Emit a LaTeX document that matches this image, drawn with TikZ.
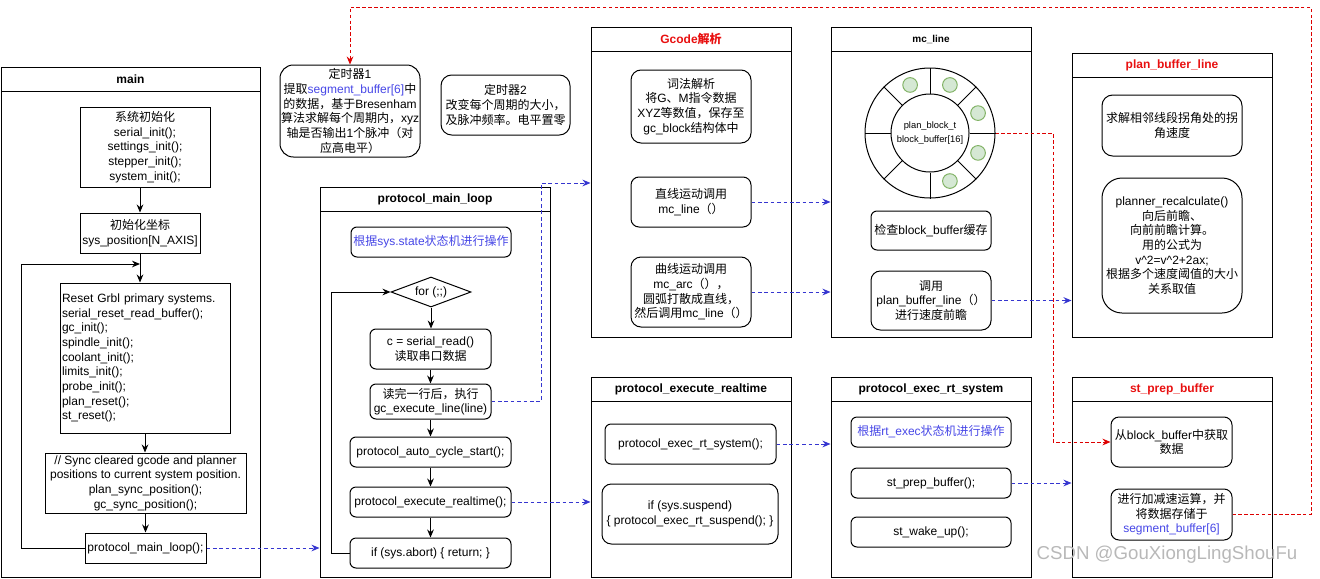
\documentclass[tikz,border=0pt]{standalone}
\usepackage{fontspec}
\setmainfont{Liberation Sans}
\newfontfamily\cjkf{Noto Sans CJK SC}
\usetikzlibrary{shapes.geometric,arrows.meta,fit}
\definecolor{lblue}{HTML}{3535D0}
\definecolor{tblue}{HTML}{4646E6}
\definecolor{lred}{HTML}{DD0000}
\definecolor{tred}{HTML}{E81010}
\definecolor{gfill}{HTML}{D5E8D4}
\definecolor{gline}{HTML}{82B366}
\newcommand\zh[1]{{\cjkf #1}}
\newcommand\bx[7]{\node[#6, minimum width={(#4-#2)*0.75pt}, minimum height={(#5-#3)*0.75pt}] (#1) at ({(#2+#4)/2},{(#3+#5)/2}) {#7};}
\newcommand\swim[7]{%
  \node[cont, fit={(#2,#3) (#4,#5)}] (#1) {};
  \node[cont, fit={(#2,#3) (#4,#3+24)}] (#1t) {};
  \node[#6] (#1l) at (#1t.center) {#7};}
\tikzset{
  base/.style={font=\fontsize{9pt}{11pt}\selectfont, align=center, inner sep=0pt},
  sq/.style={base, draw},
  rb/.style={base, draw, rounded corners=4.5pt},
  cont/.style={draw, inner sep=0pt},
  ttl/.style={font=\fontsize{9pt}{11pt}\selectfont\bfseries, inner sep=0pt},
  arr/.style={-{Stealth[length=6pt,width=5pt]}},
  bl/.style={lblue, dash pattern=on 2.8pt off 2pt, -{Stealth[length=6pt,width=5pt]}},
  rd/.style={lred, line width=0.75pt, dash pattern=on 2.6pt off 1.8pt, -{Stealth[length=6pt,width=5pt]}},
}
\begin{document}
\begin{tikzpicture}[x=0.75pt, y=-0.75pt, line width=0.75pt]
\useasboundingbox (0,0) rectangle (1320,578);
% ---------------- main
\swim{mainC}{1}{67}{260}{577}{ttl}{main}
\bx{b1}{80}{107}{210}{187}{sq}{\zh{系统初始化}\\serial\_init();\\settings\_init();\\stepper\_init();\\system\_init();}
\bx{b2}{80}{213}{200}{253}{sq}{\zh{初始化坐标}\\sys\_position[N\_AXIS]}
\bx{b3}{60}{283}{230}{433}{sq, align=left, text width=124.5pt}{Reset Grbl primary systems.\\serial\_reset\_read\_buffer();\\gc\_init();\\spindle\_init();\\coolant\_init();\\limits\_init();\\probe\_init();\\plan\_reset();\\st\_reset();}
\bx{b4}{45}{453}{246}{513}{sq}{// Sync cleared gcode and planner\\positions to current system position.\\plan\_sync\_position();\\gc\_sync\_position();}
\bx{b5}{85}{533}{206}{563}{sq}{protocol\_main\_loop();}
\coordinate (mlj) at (140,264);
\coordinate (mll) at (21,264);
\draw[arr] (b2.north |- b1.south) -- (b2.north);
\draw[arr] (b2.south) -- (b2.south |- b3.north);
\draw[arr] (b3.south) -- (b3.south |- b4.north);
\draw[arr] (b4.south) -- (b4.south |- b5.north);
\draw[arr] (b5.west) -| (mll) -- (mlj);
% ---------------- timers
\bx{t1}{280}{65}{420}{157}{rb, rounded corners=10pt}{\zh{定时器}1\\\zh{提取}\textcolor{tblue}{segment\_buffer[6]}\zh{中}\\\zh{的数据，基于}Bresenham\\\zh{算法求解每个周期内，}xyz\\\zh{轴是否输出}1\zh{个脉冲（对}\\\zh{应高电平）}}
\bx{t2}{441}{75}{570}{135}{rb, rounded corners=8pt}{\zh{定时器}2\\\zh{改变每个周期的大小，}\\\zh{及脉冲频率。电平置零}}
% ---------------- protocol_main_loop
\swim{pmlC}{320}{187}{550}{577}{ttl}{protocol\_main\_loop}
\bx{l0}{351}{227}{511}{257}{rb, text=tblue}{\zh{根据}sys.state\zh{状态机进行操作}}
\bx{l1d}{391}{277}{471}{307}{base, draw, diamond, aspect=2.67}{for (;;)}
\bx{l1}{370}{329}{491}{369}{rb}{c = serial\_read()\\\zh{读取串口数据}}
\bx{l2}{370}{384}{491}{419}{rb}{\zh{读完一行后，执行}\\gc\_execute\_line(line)}
\bx{l3}{350}{437}{511}{467}{rb}{protocol\_auto\_cycle\_start();}
\bx{l4}{350}{487}{511}{517}{rb}{protocol\_execute\_realtime();}
\bx{l5}{350}{538}{511}{568}{rb}{if (sys.abort) \{ return; \}}
\draw[arr] (l1d.south) -- (l1d.south |- l1.north);
\draw[arr] (l1.south) -- (l1.south |- l2.north);
\draw[arr] (l2.south) -- (l2.south |- l3.north);
\draw[arr] (l3.south) -- (l3.south |- l4.north);
\draw[arr] (l4.south) -- (l4.south |- l5.north);
\coordinate (pl) at (331,292);
\draw[arr] (l5.west) -| (pl) -- (l1d.west);
% ---------------- Gcode
\swim{gcC}{591}{27}{791}{337}{ttl, text=tred}{Gcode\zh{解析}}
\bx{g1}{631}{70}{751}{143}{rb, rounded corners=7.5pt}{\zh{词法解析}\\\zh{将}G\zh{、}M\zh{指令数据}\\XYZ\zh{等数值，保存至}\\gc\_block\zh{结构体中}}
\bx{g2}{631}{177}{751}{227}{rb, rounded corners=6pt}{\zh{直线运动调用}\\mc\_line\zh{（）}}
\bx{g3}{631}{257}{751}{327}{rb, rounded corners=7.5pt}{\zh{曲线运动调用}\\mc\_arc\zh{（），}\\\zh{圆弧打散成直线，}\\\zh{然后调用}mc\_line\zh{（）}}
% ---------------- mc_line
\swim{mcC}{831}{27}{1031}{337}{ttl, font=\fontsize{7.5pt}{9pt}\selectfont\bfseries}{mc\_line}
\node[draw, circle, minimum size=97.5pt, inner sep=0pt] (ringO) at (930,133) {};
\node[draw, circle, minimum size=58.5pt, inner sep=0pt, align=center, font=\fontsize{7pt}{11pt}\selectfont] (ringI) at (930,133) {plan\_block\_t\\block\_buffer[16]};
\foreach \a in {0,45,...,315} \draw (ringI.\a) -- (ringO.\a);
\foreach \a/\n in {22.5/a,67.5/b,112.5/c,-22.5/d,-67.5/e}
  \node[circle, draw=gline, fill=gfill, minimum size=11pt, inner sep=0pt] (gc\n) at ([shift={(\a:39pt)}]ringO.center) {};
\bx{m2}{871}{211}{991}{250}{rb}{\zh{检查}block\_buffer\zh{缓存}}
\bx{m3}{871}{271}{991}{330}{rb, rounded corners=7pt}{\zh{调用}\\plan\_buffer\_line\zh{（）}\\\zh{进行速度前瞻}}
% ---------------- plan_buffer_line
\swim{pbC}{1072}{53}{1272}{337}{ttl, text=tred}{plan\_buffer\_line}
\bx{p1}{1102}{95}{1242}{156}{rb, rounded corners=8pt}{\zh{求解相邻线段拐角处的拐}\\\zh{角速度}}
\bx{p2}{1102}{178}{1242}{313}{rb, rounded corners=15pt}{planner\_recalculate()\\\zh{向后前瞻、}\\\zh{向前前瞻计算。}\\\zh{用的公式为}\\v\^{}2=v\^{}2+2ax;\\\zh{根据多个速度阈值的大小}\\\zh{关系取值}}
% ---------------- protocol_execute_realtime
\swim{perC}{591}{377}{791}{577}{ttl}{protocol\_execute\_realtime}
\bx{e1}{605}{424}{776}{464}{rb}{protocol\_exec\_rt\_system();}
\bx{e2}{602}{484}{778}{544}{rb, rounded corners=7pt}{if (sys.suspend)\\\{ protocol\_exec\_rt\_suspend(); \}}
% ---------------- protocol_exec_rt_system
\swim{rtC}{831}{377}{1031}{577}{ttl}{protocol\_exec\_rt\_system}
\bx{r1}{851}{417}{1011}{447}{rb, text=tblue}{\zh{根据}rt\_exec\zh{状态机进行操作}}
\bx{r2}{851}{468}{1011}{498}{rb}{st\_prep\_buffer();}
\bx{r3}{851}{517}{1011}{547}{rb}{st\_wake\_up();}
% ---------------- st_prep_buffer
\swim{spC}{1072}{377}{1272}{577}{ttl, text=tred}{st\_prep\_buffer}
\bx{s1}{1111}{417}{1232}{467}{rb, rounded corners=6pt}{\zh{从}block\_buffer\zh{中获取}\\\zh{数据}}
\bx{s2}{1111}{489}{1232}{540}{rb, rounded corners=6pt}{\zh{进行加减速运算，并}\\\zh{将数据存储于}\\\textcolor{tblue}{segment\_buffer[6]}}
% ---------------- blue dashed connectors
\coordinate (bj) at (541,183);
\draw[bl] (b5.east) -- (pmlC.west |- b5.east);
\draw[bl] (l2.east) -| (bj) -- (gcC.west |- bj);
\draw[bl] (l4.east) -- (perC.west |- l4.east);
\draw[bl] (g2.east) -- (mcC.west |- g2.east);
\draw[bl] (g3.east) -- (mcC.west |- g3.east);
\draw[bl] (m3.east) -- (pbC.west |- m3.east);
\draw[bl] (e1.east) -- (rtC.west |- e1.east);
\draw[bl] (r2.east) -- (spC.west |- r2.east);
% ---------------- red dashed connectors
\coordinate (rj) at (1053,442);
\coordinate (rtop) at (1311,7);
\draw[rd] (ringO.east) -| (rj) -- (s1.west);
\draw[rd] (s2.east) -| (rtop) -| (t1.north);
% ---------------- watermark
\node[text=black!28, font=\fontsize{14pt}{16pt}\selectfont, inner sep=0pt] (wm) at (1167,555) {CSDN @GouXiongLingShouFu};
\end{tikzpicture}
\end{document}
